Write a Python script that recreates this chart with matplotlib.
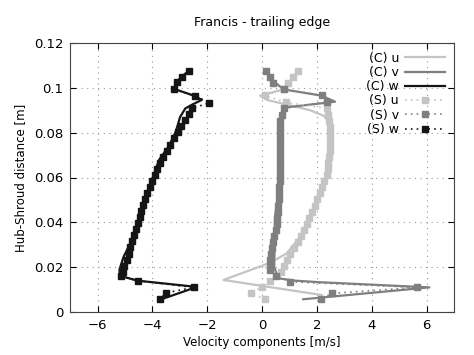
import matplotlib
matplotlib.use("Agg")
import matplotlib.pyplot as plt

# CFD (C) curves
cu_y = [0.1076, 0.105, 0.102, 0.0993, 0.0965, 0.0945, 0.0925, 0.0900, 0.0875, 0.0850,
        0.0800, 0.0720, 0.0620, 0.0485, 0.0350, 0.0262, 0.0220, 0.0143, 0.0076]
cu_x = [1.32, 1.14, 0.96, 0.78, -0.07, 0.20, 0.90, 1.75, 2.25, 2.42,
        2.49, 2.48, 2.42, 1.99, 1.48, 0.90, 0.30, -1.41, 2.17]

cv_y = [0.108, 0.1055, 0.103, 0.0993, 0.0965, 0.0938, 0.0913, 0.0890, 0.0871, 0.0800,
        0.0700, 0.0600, 0.0500, 0.0425, 0.0300, 0.0202, 0.0165, 0.0150, 0.0140, 0.0133,
        0.0110, 0.0057]
cv_x = [0.11, 0.29, 0.41, 0.78, 2.17, 2.66, 0.90, 0.72, 0.66, 0.63,
        0.62, 0.60, 0.55, 0.47, 0.45, 0.44, 0.54, 0.62, 1.20, 2.10,
        6.10, 1.50]

cw_y = [0.1076, 0.105, 0.1027, 0.0995, 0.0963, 0.0946, 0.0925, 0.0908, 0.0870, 0.0804,
        0.0740, 0.0680, 0.0590, 0.0455, 0.0320, 0.0247, 0.0190, 0.0162, 0.0140, 0.0112,
        0.0055]
cw_x = [-2.68, -2.93, -3.11, -3.21, -2.44, -2.20, -2.55, -2.80, -2.99, -3.15,
        -3.40, -3.75, -4.02, -4.38, -4.75, -5.05, -5.20, -5.19, -4.55, -2.38,
        -3.72]

# second set (S) with markers
su_y = [0.1076, 0.105, 0.102, 0.0993, 0.0966, 0.0935, 0.0908, 0.0880, 0.0853, 0.0826,
        0.0799, 0.0772, 0.0745, 0.0718, 0.0691, 0.0664, 0.0637, 0.0610, 0.0583, 0.0556,
        0.0529, 0.0502, 0.0475, 0.0448, 0.0421, 0.0394, 0.0367, 0.0340, 0.0313, 0.0286,
        0.0259, 0.0232, 0.0205, 0.0178, 0.0140, 0.0112, 0.0083, 0.0057]
su_x = [1.32, 1.14, 0.96, 0.78, 0.10, 0.87, 2.36, 2.42, 2.45, 2.47,
        2.48, 2.48, 2.47, 2.46, 2.44, 2.42, 2.39, 2.35, 2.25, 2.18,
        2.10, 2.00, 1.93, 1.82, 1.72, 1.63, 1.52, 1.42, 1.30, 1.17,
        1.03, 0.90, 0.80, 0.68, 0.29, -0.01, -0.40, 0.11]

sv_y = [0.1076, 0.105, 0.102, 0.0993, 0.0966, 0.0938, 0.0908, 0.0880, 0.0853, 0.0826,
        0.0799, 0.0772, 0.0745, 0.0718, 0.0691, 0.0664, 0.0637, 0.0610, 0.0583, 0.0556,
        0.0529, 0.0502, 0.0475, 0.0448, 0.0421, 0.0394, 0.0367, 0.0340, 0.0313, 0.0286,
        0.0259, 0.0232, 0.0205, 0.0189, 0.0162, 0.0135, 0.0110, 0.0083, 0.0057]
sv_x = [0.15, 0.29, 0.41, 0.78, 2.17, 2.38, 0.78, 0.72, 0.66, 0.65,
        0.65, 0.65, 0.65, 0.65, 0.65, 0.65, 0.65, 0.64, 0.64, 0.63,
        0.62, 0.60, 0.58, 0.57, 0.55, 0.53, 0.49, 0.45, 0.40, 0.36,
        0.33, 0.30, 0.29, 0.30, 0.51, 1.02, 5.64, 2.54, 2.14]

sw_y = [0.1076, 0.105, 0.1027, 0.0995, 0.0963, 0.0934, 0.0908, 0.0882, 0.0855, 0.0828,
        0.0801, 0.0774, 0.0747, 0.0720, 0.0693, 0.0666, 0.0639, 0.0612, 0.0585, 0.0558,
        0.0531, 0.0504, 0.0477, 0.0450, 0.0423, 0.0396, 0.0369, 0.0342, 0.0315, 0.0288,
        0.0261, 0.0234, 0.0207, 0.0180, 0.0160, 0.0140, 0.0110, 0.0086, 0.0057]
sw_x = [-2.68, -2.93, -3.11, -3.21, -2.44, -1.92, -2.54, -2.68, -2.80, -2.95,
        -3.07, -3.21, -3.35, -3.48, -3.60, -3.72, -3.82, -3.92, -4.02, -4.10,
        -4.18, -4.26, -4.33, -4.40, -4.47, -4.54, -4.61, -4.68, -4.74, -4.80,
        -4.87, -4.94, -5.02, -5.08, -5.13, -4.54, -2.50, -3.50, -3.72]

light = "#c4c4c4"
mid = "#7f7f7f"
dark = "#151515"

fig = plt.figure(figsize=(4.74, 3.55), dpi=100)
ax = fig.add_axes([0.148, 0.121, 0.810, 0.758])

ax.plot(cu_x, cu_y, color=light, lw=1.6, label="(C) u")
ax.plot(cv_x, cv_y, color=mid, lw=1.6, label="(C) v")
ax.plot(cw_x, cw_y, color=dark, lw=1.6, label="(C) w")
dots = (0, (1, 2.5))
ax.plot(su_x, su_y, color=light, lw=1.2, ls=dots, marker="s", ms=4, label="(S) u")
ax.plot(sv_x, sv_y, color=mid, lw=1.2, ls=dots, marker="s", ms=4, label="(S) v")
ax.plot(sw_x, sw_y, color=dark, lw=1.2, ls=dots, marker="s", ms=4, label="(S) w")

ax.set_xlim(-7, 7)
ax.set_ylim(0, 0.12)
ax.set_xticks([-6, -4, -2, 0, 2, 4, 6])
ax.set_yticks([0, 0.02, 0.04, 0.06, 0.08, 0.1, 0.12])
ax.set_yticklabels(["0", "0.02", "0.04", "0.06", "0.08", "0.1", "0.12"])
ax.tick_params(direction="in", top=True, right=True, labelsize=9.5, length=4, pad=5)
ax.grid(True, color="#999999", ls=(0, (1, 4)), lw=0.8)
for s in ax.spines.values():
    s.set_color("#444444")

ax.set_title("Francis - trailing edge", fontsize=9, pad=12)
ax.set_xlabel("Velocity components [m/s]", fontsize=8.5, labelpad=3)
ax.set_ylabel("Hub-Shroud distance [m]", fontsize=8.5, labelpad=5)

leg = ax.legend(loc="upper right", frameon=False, markerfirst=False, fontsize=9,
                handlelength=3.2, labelspacing=0.1, borderaxespad=0.3,
                handletextpad=0.5)

fig.savefig("out.png", dpi=100)
